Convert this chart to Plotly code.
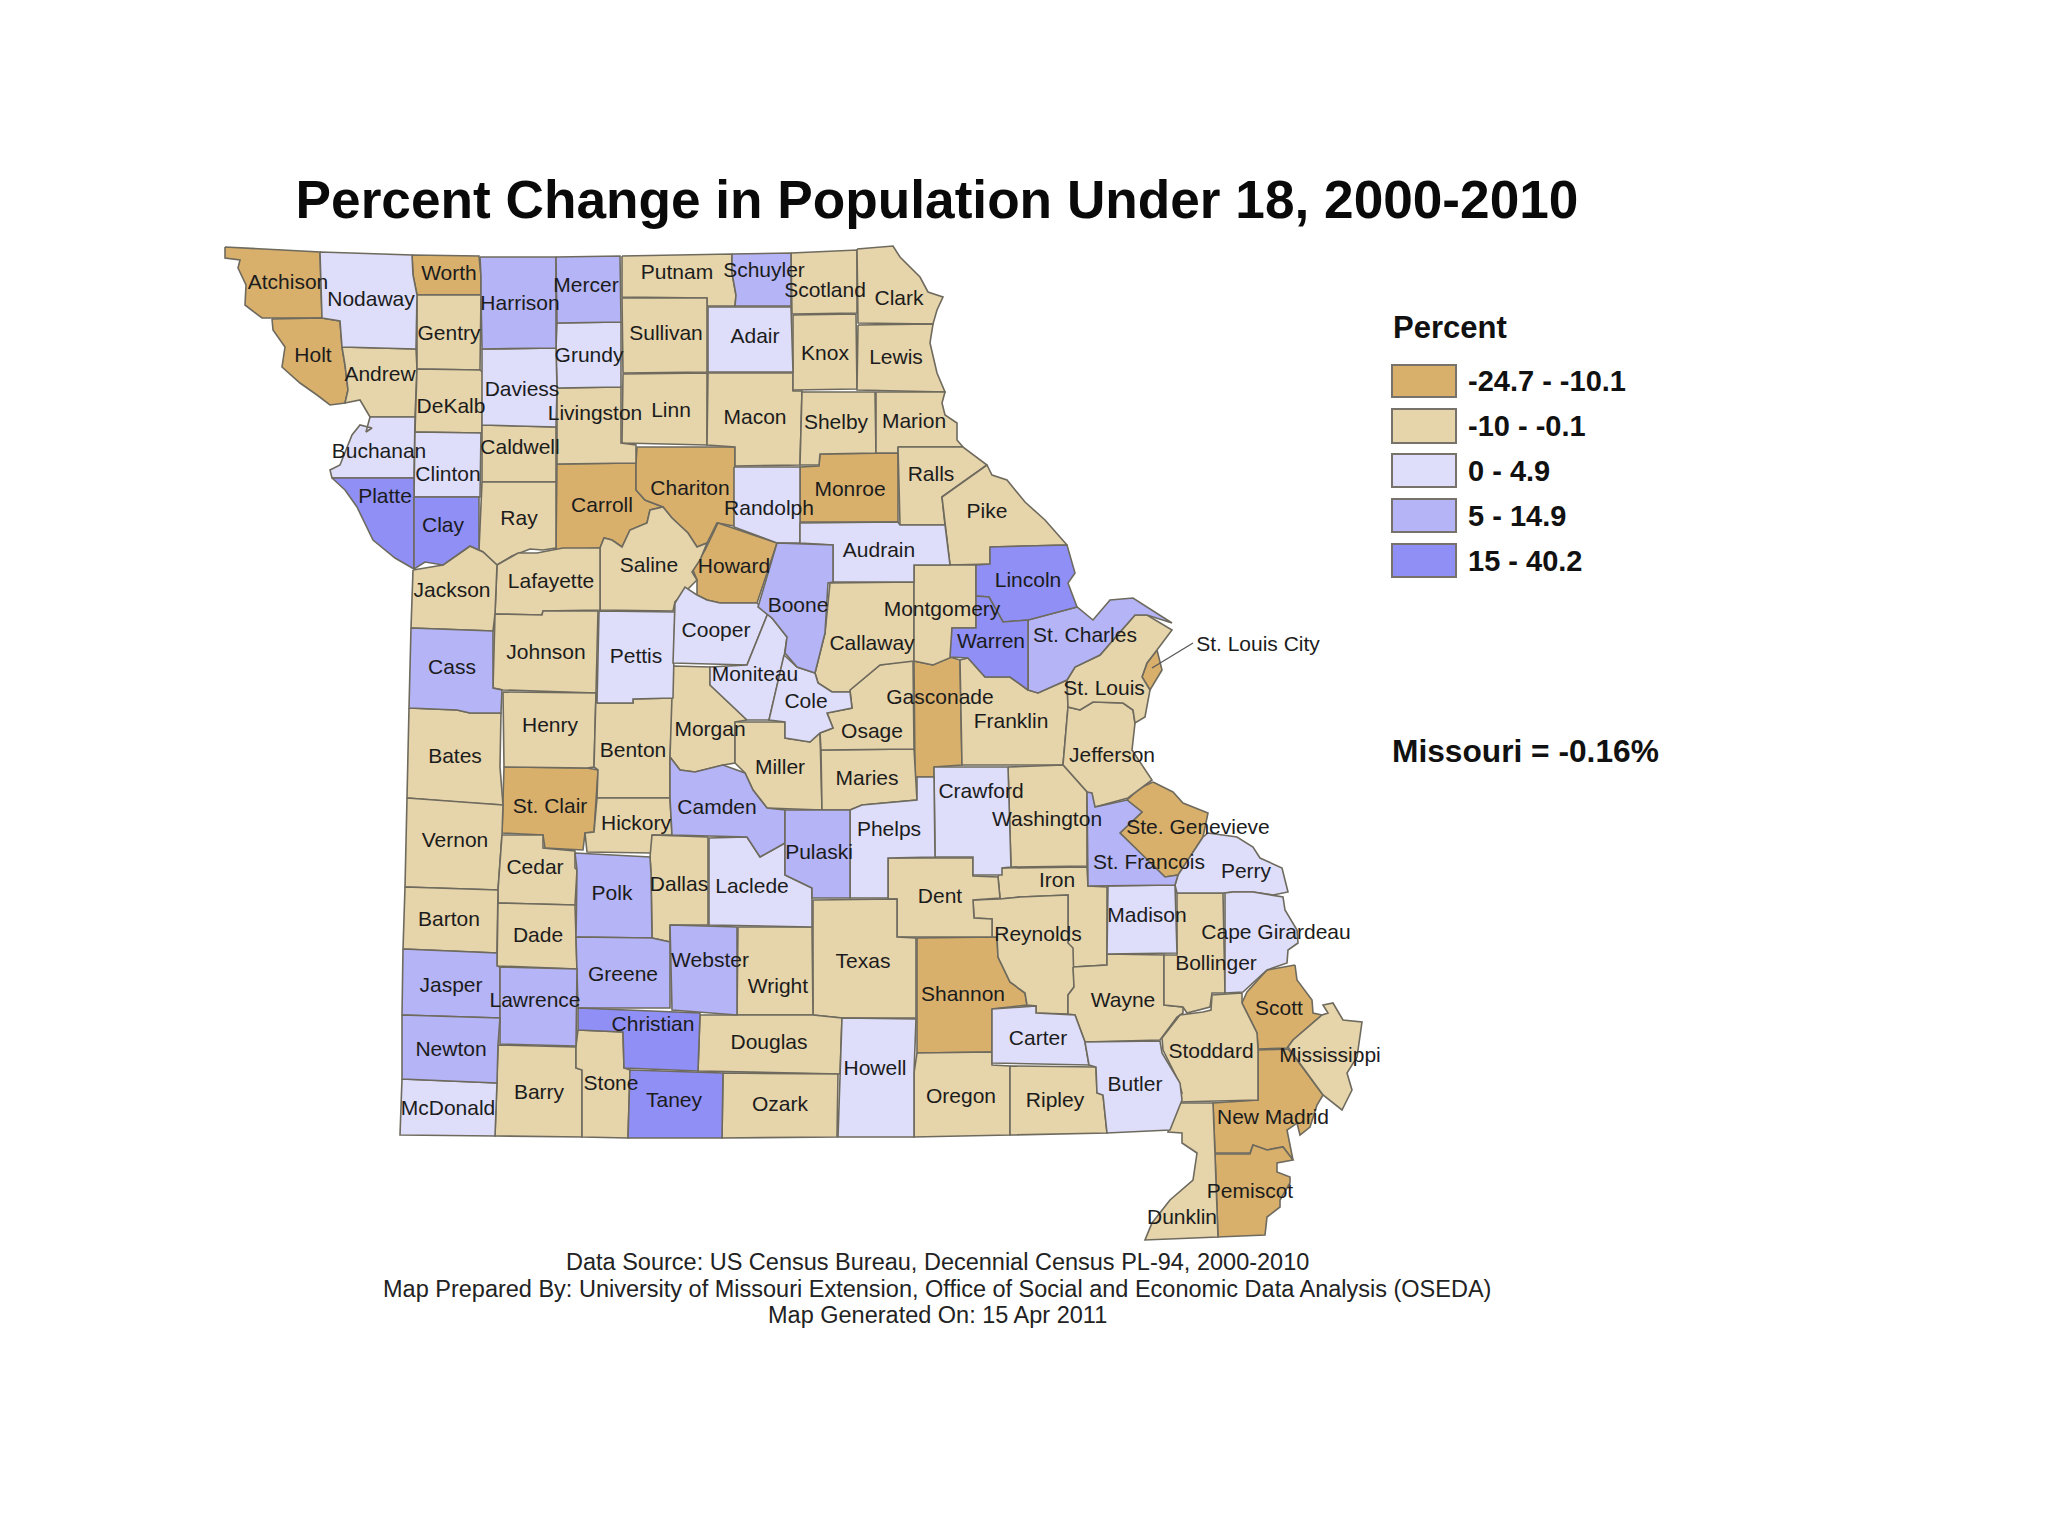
import plotly.graph_objects as go

# county outlines, in picture pixels (x, y)
county_outlines = {
    "Atchison": [(225,247),(320,252),(322,318),(262,318),(245,305),(246,285),(238,268),(240,260),(225,258)],
    "Holt": [(272,319),(322,318),(340,321),(342,347),(345,365),(348,390),(345,403),(330,405),(317,395),(300,383),(282,367),(285,347),(273,330)],
    "Nodaway": [(320,252),(412,255),(413,275),(417,295),(416,349),(342,347),(340,321),(322,318)],
    "Worth": [(412,255),(479,256),(481,277),(481,295),(417,295),(413,275)],
    "Gentry": [(417,295),(481,295),(480,370),(417,369)],
    "DeKalb": [(417,369),(480,370),(483,372),(482,433),(415,432)],
    "Andrew": [(342,347),(416,349),(417,369),(415,417),(370,417),(360,400),(345,403),(348,390),(345,365)],
    "Buchanan": [(370,417),(415,417),(414,478),(332,478),(330,470),(340,465),(352,435),(360,425),(372,428),(366,432)],
    "Clinton": [(415,432),(481,433),(480,497),(414,497)],
    "Platte": [(332,478),(414,478),(414,497),(414,569),(395,558),(373,540),(357,507),(345,490)],
    "Clay": [(414,497),(479,497),(479,550),(470,546),(460,553),(443,565),(425,562),(414,569)],
    "Harrison": [(480,257),(556,257),(556,348),(482,349),(481,295),(481,277)],
    "Mercer": [(556,257),(620,256),(621,322),(557,323)],
    "Grundy": [(557,323),(621,322),(621,387),(557,388),(556,348)],
    "Daviess": [(482,349),(556,348),(557,388),(556,427),(482,425)],
    "Caldwell": [(482,425),(556,427),(556,482),(482,482)],
    "Ray": [(482,482),(556,482),(556,548),(543,550),(530,549),(512,556),(497,565),(483,552),(479,550)],
    "Livingston": [(557,388),(621,387),(621,443),(636,445),(636,463),(557,464)],
    "Carroll": [(557,464),(636,463),(636,490),(645,500),(663,507),(650,510),(647,523),(630,530),(622,547),(612,540),(604,538),(600,548),(556,550)],
    "Chariton": [(637,447),(735,447),(734,526),(717,523),(707,543),(697,547),(688,533),(672,518),(663,507),(645,500),(636,490),(636,463)],
    "Saline": [(600,548),(604,538),(612,540),(622,547),(630,530),(647,523),(650,510),(663,507),(672,518),(688,533),(697,547),(707,543),(700,560),(692,572),(697,580),(675,602),(673,611),(600,610)],
    "Lafayette": [(497,565),(518,553),(537,553),(563,548),(600,548),(600,610),(543,611),(542,615),(495,614)],
    "Jackson": [(413,570),(443,565),(460,553),(470,546),(483,552),(497,565),(495,614),(493,631),(411,628)],
    "Cass": [(411,628),(493,631),(493,688),(502,690),(501,713),(470,713),(457,710),(409,708)],
    "Bates": [(409,708),(457,710),(470,713),(501,713),(500,767),(503,805),(470,803),(407,798)],
    "Vernon": [(407,798),(470,803),(503,805),(502,835),(498,890),(405,887)],
    "Barton": [(405,887),(498,890),(497,953),(403,949)],
    "Jasper": [(403,949),(497,953),(497,966),(500,967),(500,1018),(402,1015)],
    "Newton": [(402,1015),(500,1018),(498,1045),(497,1083),(402,1079)],
    "McDonald": [(402,1079),(497,1083),(495,1136),(400,1135)],
    "Barry": [(498,1045),(576,1047),(576,1068),(582,1070),(582,1137),(495,1136)],
    "Lawrence": [(500,967),(577,969),(576,1046),(500,1044)],
    "Dade": [(498,903),(575,905),(576,937),(577,969),(497,966)],
    "Cedar": [(502,835),(543,835),(543,848),(575,851),(575,868),(577,870),(575,905),(498,903),(498,890)],
    "St. Clair": [(504,767),(587,768),(598,770),(596,798),(594,832),(585,833),(583,850),(545,848),(543,835),(502,833)],
    "Henry": [(503,692),(596,693),(594,767),(587,768),(504,767)],
    "Johnson": [(495,614),(542,615),(543,611),(598,611),(596,693),(503,690),(493,688)],
    "Pettis": [(599,611),(675,612),(673,698),(633,699),(633,703),(597,703)],
    "Benton": [(597,703),(633,703),(633,699),(673,698),(670,757),(670,798),(597,798),(598,770),(594,767),(596,693)],
    "Hickory": [(597,798),(670,798),(672,835),(652,835),(652,853),(587,852),(585,833),(594,832)],
    "Polk": [(575,853),(650,857),(651,873),(652,938),(576,937),(577,870)],
    "Greene": [(576,937),(652,938),(670,942),(670,1008),(578,1008),(577,969)],
    "Dallas": [(652,835),(708,837),(708,925),(670,925),(670,942),(652,938),(651,873),(650,857)],
    "Webster": [(670,925),(737,927),(737,1015),(672,1010)],
    "Christian": [(578,1008),(700,1013),(698,1071),(624,1068),(623,1032),(578,1030)],
    "Stone": [(578,1030),(623,1032),(624,1068),(630,1070),(628,1138),(582,1137),(582,1070),(576,1068),(576,1046)],
    "Taney": [(630,1070),(723,1073),(722,1138),(628,1138)],
    "Ozark": [(723,1073),(838,1074),(837,1137),(722,1138)],
    "Douglas": [(700,1015),(813,1015),(842,1018),(840,1074),(698,1071)],
    "Wright": [(738,927),(812,927),(813,1015),(737,1015)],
    "Laclede": [(709,838),(747,837),(760,857),(785,843),(785,875),(812,888),(812,927),(709,925)],
    "Camden": [(670,757),(680,770),(695,772),(723,765),(745,773),(753,790),(767,808),(785,810),(785,843),(760,857),(747,837),(672,835),(670,798)],
    "Morgan": [(673,666),(710,667),(710,685),(747,720),(735,722),(735,763),(723,765),(695,772),(680,770),(670,757)],
    "Cooper": [(675,603),(685,587),(697,595),(707,600),(720,603),(757,603),(768,613),(747,665),(673,663)],
    "Howard": [(718,523),(777,543),(757,603),(720,603),(707,600),(697,595),(697,580),(693,570),(705,550)],
    "Boone": [(777,543),(833,545),(833,582),(828,583),(825,633),(815,673),(797,667),(785,653),(787,637),(772,618),(758,607)],
    "Moniteau": [(768,613),(772,618),(787,637),(784,657),(769,720),(747,720),(710,685),(710,667),(747,665)],
    "Cole": [(784,655),(797,667),(815,673),(818,683),(832,692),(850,692),(852,708),(827,713),(833,728),(820,733),(810,742),(785,738),(785,722),(769,720)],
    "Miller": [(735,722),(785,722),(785,738),(810,742),(820,733),(822,810),(767,808),(753,790),(745,773),(735,763)],
    "Osage": [(820,733),(833,728),(827,713),(852,708),(850,690),(880,665),(913,660),(914,749),(821,750)],
    "Maries": [(821,750),(914,749),(917,800),(862,805),(850,810),(822,810)],
    "Gasconade": [(914,661),(933,665),(950,657),(960,660),(962,765),(934,767),(934,777),(915,777)],
    "Franklin": [(960,660),(968,658),(985,677),(1010,677),(1028,690),(1038,693),(1067,680),(1068,707),(1063,765),(962,765)],
    "Montgomery": [(914,565),(976,565),(976,628),(952,628),(952,657),(933,665),(914,661)],
    "Lincoln": [(990,547),(1067,545),(1075,573),(1068,583),(1077,607),(1057,612),(1028,620),(1003,622),(989,597),(976,596),(976,565),(990,564)],
    "Warren": [(976,596),(989,597),(1003,622),(1028,620),(1028,690),(1010,677),(985,677),(968,658),(950,657),(952,628),(976,628)],
    "St. Charles": [(1028,620),(1057,612),(1077,607),(1093,620),(1110,600),(1133,598),(1172,623),(1147,615),(1135,615),(1113,640),(1100,655),(1075,667),(1067,680),(1038,693),(1028,690)],
    "St. Louis": [(1067,680),(1075,667),(1100,655),(1113,640),(1135,615),(1147,615),(1172,630),(1157,650),(1147,663),(1142,677),(1150,690),(1145,717),(1135,723),(1133,710),(1123,703),(1093,702),(1080,710),(1068,707)],
    "St. Louis City": [(1157,650),(1162,670),(1150,690),(1142,677),(1147,663)],
    "Jefferson": [(1068,707),(1080,710),(1093,702),(1123,703),(1133,710),(1135,723),(1132,750),(1152,780),(1128,798),(1095,807),(1087,792),(1063,765)],
    "Washington": [(1008,767),(1063,765),(1087,792),(1087,866),(1011,867)],
    "Crawford": [(934,767),(1008,767),(1011,867),(1002,868),(1002,875),(973,875),(973,857),(935,857)],
    "Phelps": [(917,777),(934,777),(935,857),(888,858),(888,898),(850,898),(850,810),(862,805),(917,800)],
    "Pulaski": [(785,810),(850,810),(850,898),(812,898),(812,888),(785,875)],
    "Texas": [(813,900),(897,899),(897,937),(916,938),(916,1018),(842,1018),(813,1015)],
    "Howell": [(842,1018),(916,1019),(914,1073),(914,1137),(838,1137),(840,1074)],
    "Dent": [(888,858),(973,858),(973,876),(998,877),(1000,898),(973,900),(974,918),(992,919),(992,937),(897,937),(897,899),(888,899)],
    "Iron": [(1002,868),(1087,867),(1088,886),(1107,887),(1107,965),(1073,967),(1068,943),(1068,895),(1020,897),(1000,899),(998,877)],
    "Reynolds": [(973,900),(1000,899),(1020,897),(1068,895),(1068,943),(1073,948),(1074,987),(1068,995),(1068,1014),(1036,1013),(1036,1006),(1027,1005),(1025,993),(1010,982),(998,957),(997,937),(992,937),(992,919),(974,918)],
    "Shannon": [(917,938),(997,937),(998,957),(1010,982),(1025,993),(1027,1005),(992,1009),(992,1052),(917,1053)],
    "Carter": [(992,1009),(1036,1006),(1036,1013),(1075,1015),(1085,1042),(1089,1065),(992,1063)],
    "Oregon": [(917,1053),(992,1052),(992,1065),(1010,1066),(1010,1135),(914,1137),(914,1073)],
    "Ripley": [(1010,1066),(1096,1067),(1097,1093),(1103,1095),(1107,1133),(1010,1135)],
    "Butler": [(1085,1042),(1160,1041),(1162,1053),(1180,1083),(1182,1100),(1170,1130),(1107,1133),(1103,1095),(1097,1093),(1096,1067),(1089,1065)],
    "Wayne": [(1073,967),(1107,965),(1107,954),(1164,955),(1164,1005),(1183,1007),(1183,1013),(1177,1017),(1160,1040),(1085,1042),(1075,1015),(1068,1014),(1068,995),(1074,987)],
    "Madison": [(1108,886),(1175,885),(1177,953),(1107,954)],
    "Bollinger": [(1177,893),(1223,893),(1225,993),(1212,993),(1210,1007),(1187,1013),(1183,1007),(1164,1005),(1164,955),(1177,955)],
    "St. Francois": [(1087,792),(1092,793),(1095,807),(1127,800),(1142,812),(1120,833),(1165,877),(1178,875),(1175,885),(1088,886)],
    "Ste. Genevieve": [(1153,782),(1173,792),(1183,803),(1208,813),(1203,837),(1178,875),(1165,877),(1120,833),(1142,812),(1127,800),(1140,788)],
    "Perry": [(1208,833),(1237,837),(1253,847),(1260,858),(1282,868),(1288,892),(1273,895),(1253,892),(1233,892),(1223,893),(1177,893),(1175,885),(1178,875),(1203,837)],
    "Cape Girardeau": [(1225,893),(1233,892),(1253,892),(1273,895),(1283,897),(1285,910),(1297,930),(1298,943),(1288,950),(1287,963),(1267,970),(1243,992),(1225,993)],
    "Scott": [(1295,965),(1297,980),(1312,1000),(1313,1013),(1322,1015),(1293,1040),(1287,1048),(1258,1049),(1257,1033),(1242,1003),(1247,992),(1267,970)],
    "Mississippi": [(1322,1015),(1328,1013),(1323,1005),(1333,1003),(1343,1020),(1362,1022),(1357,1057),(1347,1073),(1352,1090),(1342,1110),(1323,1095),(1297,1060),(1288,1047),(1293,1040)],
    "New Madrid": [(1258,1050),(1288,1049),(1297,1060),(1323,1095),(1317,1105),(1310,1127),(1300,1135),(1297,1123),(1287,1130),(1293,1160),(1283,1147),(1267,1150),(1253,1145),(1250,1153),(1215,1153),(1213,1103),(1258,1100)],
    "Pemiscot": [(1215,1154),(1250,1154),(1253,1145),(1267,1150),(1283,1147),(1293,1160),(1277,1163),(1277,1172),(1290,1177),(1290,1183),(1280,1200),(1280,1207),(1267,1217),(1265,1235),(1218,1237)],
    "Dunklin": [(1178,1103),(1213,1103),(1215,1154),(1218,1237),(1145,1240),(1152,1223),(1170,1200),(1193,1180),(1197,1153),(1182,1143),(1182,1133),(1168,1132)],
    "Stoddard": [(1212,995),(1242,993),(1242,1003),(1257,1033),(1258,1049),(1258,1100),(1178,1102),(1182,1093),(1178,1080),(1163,1050),(1162,1038),(1180,1015),(1203,1012),(1211,1010)],
    "Putnam": [(622,256),(732,254),(732,273),(736,295),(735,306),(707,306),(707,298),(622,297)],
    "Schuyler": [(732,254),(791,253),(791,306),(735,306),(736,295),(732,273)],
    "Scotland": [(791,253),(857,250),(857,313),(792,314)],
    "Clark": [(857,249),(893,246),(900,257),(920,277),(928,292),(943,297),(937,310),(933,324),(858,323)],
    "Lewis": [(858,325),(933,324),(930,343),(937,373),(945,392),(857,390)],
    "Knox": [(793,315),(856,314),(857,389),(793,390)],
    "Adair": [(708,307),(791,307),(793,372),(708,372)],
    "Sullivan": [(622,298),(707,298),(707,372),(623,373)],
    "Linn": [(623,374),(707,373),(707,445),(622,443)],
    "Macon": [(708,373),(793,373),(793,391),(802,391),(800,465),(735,466),(735,447),(707,445)],
    "Shelby": [(802,392),(875,392),(876,453),(820,454),(819,465),(800,465)],
    "Marion": [(876,392),(945,392),(942,403),(945,415),(957,423),(957,440),(963,447),(898,447),(898,453),(876,453)],
    "Monroe": [(820,454),(898,453),(898,522),(800,522),(800,467),(819,466)],
    "Randolph": [(734,467),(800,467),(800,543),(777,543),(734,527)],
    "Ralls": [(898,447),(963,447),(987,465),(942,497),(945,525),(900,525)],
    "Pike": [(987,465),(992,475),(1007,480),(1025,502),(1045,520),(1067,545),(990,547),(990,564),(950,565),(945,525),(942,497)],
    "Audrain": [(800,523),(898,522),(900,525),(945,525),(950,565),(914,565),(914,582),(833,582),(833,545),(800,543)],
    "Callaway": [(830,583),(914,582),(914,661),(880,665),(850,690),(850,692),(832,692),(818,683),(815,673),(825,633)],
}

# classes of the map
class_labels = ["-24.7 - -10.1", "-10 - -0.1", "0 - 4.9", "5 - 14.9", "15 - 40.2"]
class_colors = ["#D8B06C", "#E6D4AA", "#DEDEFA", "#B4B4F6", "#8F8FF6"]
class_counties = [
    ["Atchison","Holt","Worth","Carroll","Chariton","Monroe","Howard","St. Clair","Gasconade","St. Louis City",
     "Ste. Genevieve","Shannon","Scott","New Madrid","Pemiscot"],
    ["Andrew","Gentry","DeKalb","Caldwell","Ray","Putnam","Sullivan","Linn","Livingston","Macon","Knox","Scotland",
     "Clark","Lewis","Shelby","Marion","Ralls","Pike","Saline","Lafayette","Jackson","Johnson","Henry","Bates",
     "Vernon","Benton","Hickory","Cedar","Barton","Dade","Barry","Stone","Dallas","Morgan","Miller","Maries","Osage",
     "Callaway","Montgomery","Franklin","Jefferson","St. Louis","Washington","Iron","Reynolds","Dent","Texas",
     "Wright","Douglas","Ozark","Oregon","Ripley","Wayne","Bollinger","Stoddard","Mississippi","Dunklin"],
    ["Nodaway","Grundy","Daviess","Buchanan","Clinton","Adair","Randolph","Audrain","Pettis","Cooper","Moniteau",
     "Cole","Crawford","Phelps","Laclede","Perry","Cape Girardeau","Madison","Carter","Butler","Howell","McDonald"],
    ["Harrison","Mercer","Schuyler","Boone","Cass","Camden","Pulaski","Polk","Greene","Webster","Jasper","Lawrence",
     "Newton","St. Charles","St. Francois"],
    ["Platte","Clay","Lincoln","Warren","Christian","Taney"],
]

# where the county names sit
label_names = ["Atchison","Nodaway","Worth","Gentry","Harrison","Mercer","Putnam","Schuyler","Scotland","Clark",
    "Sullivan","Adair","Knox","Lewis","Grundy","Holt","Andrew","Daviess","DeKalb","Livingston","Linn","Macon",
    "Shelby","Marion","Buchanan","Caldwell","Clinton","Ralls","Chariton","Monroe","Platte","Carroll","Randolph",
    "Pike","Ray","Clay","Audrain","Saline","Howard","Lincoln","Lafayette","Jackson","Boone","Montgomery","Cooper",
    "Callaway","Warren","St. Charles","Johnson","Pettis","Cass","Moniteau","St. Louis","Cole","Gasconade","Franklin",
    "Henry","Morgan","Osage","Benton","Bates","Jefferson","Miller","Maries","Crawford","St. Clair","Camden",
    "Washington","Hickory","Ste. Genevieve","Phelps","Vernon","Pulaski","St. Francois","Cedar","Perry","Iron",
    "Laclede","Dallas","Polk","Dent","Madison","Barton","Cape Girardeau","Reynolds","Dade","Webster","Texas",
    "Bollinger","Greene","Jasper","Wright","Shannon","Wayne","Lawrence","Scott","Christian","Carter","Douglas",
    "Newton","Stoddard","Mississippi","Howell","Stone","Butler","Barry","Oregon","Taney","Ripley","Ozark","McDonald",
    "New Madrid","Pemiscot","Dunklin","St. Louis City"]
label_x = [288,371,449,449,520,586,677,764,825,899,666,755,825,896,589,313,380,522,451,595,671,755,836,914,379,520,448,
    931,690,850,385,602,769,987,519,443,879,649,734,1028,551,452,798,942,716,872,991,1085,546,636,452,755,1104,806,
    940,1011,550,710,872,633,455,1112,780,867,981,550,717,1047,636,1198,889,455,819,1149,535,1246,1057,752,679,612,
    940,1147,449,1276,1038,538,710,863,1216,623,451,778,963,1123,535,1279,653,1038,769,451,1211,1330,875,611,1135,
    539,961,674,1055,780,448,1273,1250,1182,1258]
label_y = [284,301,275,335,305,287,274,272,292,300,335,338,355,359,357,357,376,391,408,415,412,419,424,423,453,449,476,
    476,490,491,498,507,510,513,520,527,552,567,568,582,583,592,607,611,632,645,643,637,654,658,669,676,690,703,699,
    723,727,731,733,752,758,757,769,780,793,808,809,821,825,829,831,842,854,864,869,873,882,888,886,895,898,917,921,
    934,936,937,962,963,965,976,987,988,996,1002,1002,1010,1026,1040,1044,1051,1053,1057,1070,1085,1086,1094,1098,
    1102,1102,1106,1110,1119,1193,1219,646]

title_text = "Percent Change in Population Under 18, 2000-2010"
legend_title = "Percent"
state_note = "Missouri = -0.16%"
footer_lines = ["Data Source: US Census Bureau, Decennial Census PL-94, 2000-2010",
                "Map Prepared By: University of Missouri Extension, Office of Social and Economic Data Analysis (OSEDA)",
                "Map Generated On: 15 Apr 2011"]

FONT = "Liberation Sans"
INK = "#111111"
PAGE_OFFSET = 8  # the page body pushes the plot 8 px right and down
fig = go.Figure()

# one filled polygon per county
for cores, lista in zip(class_colors, class_counties):
    for nome in lista:
        pontos = county_outlines[nome]
        xs = [p[0] for p in pontos] + [pontos[0][0]]
        ys = [p[1] for p in pontos] + [pontos[0][1]]
        fig.add_trace(go.Scatter(x=xs, y=ys, mode="lines", fill="toself", fillcolor=cores,
                                 line=dict(color="#6E6A5E", width=1.6), name=nome,
                                 hoverinfo="name", showlegend=False))

# leader line of St. Louis City
fig.add_trace(go.Scatter(x=[1152, 1193], y=[668, 643], mode="lines", line=dict(color="#555555", width=1.2),
                         hoverinfo="skip", showlegend=False))

# county names
fig.add_trace(go.Scatter(x=label_x, y=label_y, mode="text", text=label_names, textposition="middle center",
                         textfont=dict(family=FONT, size=21, color="#1c1c1c"),
                         hoverinfo="skip", showlegend=False))

# legend boxes and texts
legend_top = [365, 409, 454, 499, 544]
legend_bottom = [397, 443, 487, 532, 577]
for topo, base, cor, texto in zip(legend_top, legend_bottom, class_colors, class_labels):
    fig.add_shape(type="rect", x0=1392, x1=1456, y0=topo, y1=base, fillcolor=cor,
                  line=dict(color="#77736a", width=2))
    fig.add_annotation(x=1466, y=(topo + base) / 2, text="<b>" + texto + "</b>", showarrow=False, xanchor="left",
                       font=dict(family=FONT, size=29, color=INK))
fig.add_annotation(x=1391, y=327, text="<b>" + legend_title + "</b>", showarrow=False, xanchor="left",
                   font=dict(family=FONT, size=31, color=INK))
fig.add_annotation(x=1390, y=751, text="<b>" + state_note + "</b>", showarrow=False, xanchor="left",
                   font=dict(family=FONT, size=31.7, color=INK))

# footer
for y_linha, linha in zip([1262, 1289, 1315], footer_lines):
    fig.add_annotation(x=937, y=y_linha, text=linha, showarrow=False, xanchor="center",
                       font=dict(family=FONT, size=23.5, color="#222222"))

fig.update_xaxes(range=[PAGE_OFFSET, 2048 + PAGE_OFFSET], visible=False, fixedrange=True)
fig.update_yaxes(range=[1536 + PAGE_OFFSET, PAGE_OFFSET], visible=False, fixedrange=True)
fig.update_layout(width=2048, height=1536, margin=dict(l=0, r=0, t=0, b=0),
                  paper_bgcolor="white", plot_bgcolor="white", showlegend=False,
                  title=dict(text="<b>" + title_text + "</b>", x=(937 - PAGE_OFFSET) / 2048,
                             y=1 - (199 - PAGE_OFFSET) / 1536, xanchor="center", yanchor="middle",
                             font=dict(family=FONT, size=53.2, color="#0a0a0a")))

fig.write_html("out.html")
